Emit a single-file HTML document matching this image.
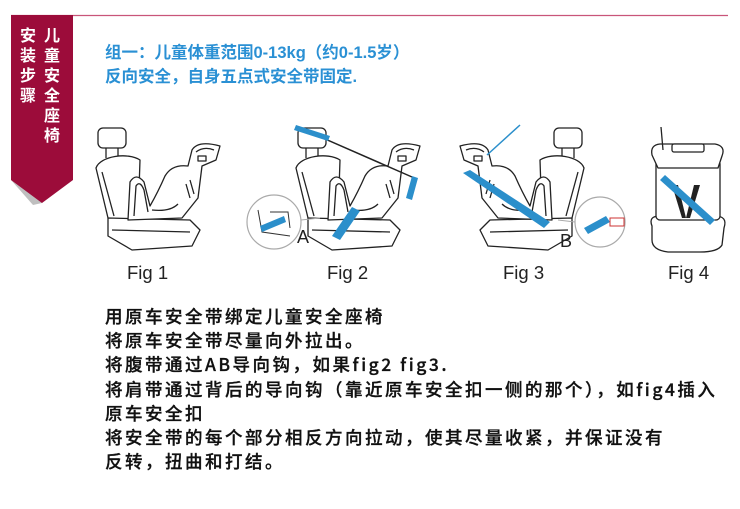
<!DOCTYPE html>
<html><head><meta charset="utf-8"><style>
html,body{margin:0;padding:0;background:#fff;}
body{width:740px;height:509px;position:relative;overflow:hidden;font-family:"Liberation Sans","Noto Sans CJK SC",sans-serif;}
.blue{position:absolute;left:105px;color:#2a90d4;font-weight:bold;font-size:16.5px;font-family:"Liberation Sans","Noto Sans CJK SC",sans-serif;white-space:nowrap;}
.fig{position:absolute;font-size:18.5px;color:#222;font-family:"Liberation Sans",sans-serif;}
.txt{position:absolute;left:105px;top:305px;font-size:17.5px;line-height:24.2px;letter-spacing:2.5px;color:#111;font-weight:500;white-space:nowrap;font-family:"Noto Sans CJK SC",sans-serif;-webkit-text-stroke:0.3px #111;}
</style></head><body>
<svg width="740" height="509" style="position:absolute;left:0;top:0">
<line x1="11" y1="15.5" x2="728" y2="15.5" stroke="#c9557a" stroke-width="1.2"/>
<polygon points="11,180 33,205 42,203 25,180" fill="#bfbfbf"/>
<polygon points="11,15 73,15 73,180 42,203 11,180" fill="#9c0c3a"/>
<defs>
<g id="seat" fill="#fff" stroke="#222" stroke-width="1.3" stroke-linejoin="round">
 <rect x="8" y="8" width="28" height="20" rx="5"/>
 <line x1="16" y1="28" x2="16" y2="38"/><line x1="28" y1="28" x2="28" y2="38"/>
 <path d="M6 48 C10 36 38 32 50 40 L48 100 L30 104 L18 98 Z"/>
 <path d="M12 52 L24 96" fill="none"/>
 <path d="M18 98 L100 100 L110 110 L102 126 L42 130 L18 116 Z"/>
 <path d="M22 110 L100 112" fill="none"/>
 <path d="M38 100 L40 62 Q46 52 54 62 L60 86 Q68 72 75 56 Q82 44 98 46 L102 30 Q108 20 130 26 L126 40 L112 46 L108 78 L92 98 Z"/>
 <path d="M44 96 L46 66 Q50 60 54 70 L58 92" fill="none"/>
 <path d="M62 90 Q80 92 88 84" fill="none"/>
 <path d="M106 32 Q114 26 124 30" fill="none"/>
 <rect x="108" y="36" width="8" height="5"/>
 <path d="M100 60 L104 74 M96 64 L100 78" fill="none"/>
</g>
</defs>
<use href="#seat" x="90" y="120"/>
<use href="#seat" x="290" y="120"/>
<g transform="translate(590,120) scale(-1,1)"><use href="#seat"/></g>
<line x1="300" y1="128" x2="412" y2="177" stroke="#222" stroke-width="1.5"/>
<polygon points="296,125 330,136 328,141 294,130" fill="#2b8fcb"/>
<polygon points="412,176 418,178 412,200 406,198" fill="#2b8fcb"/>
<polygon points="352,207 360,211 340,240 332,236" fill="#2b8fcb"/>
<circle cx="274" cy="222" r="27" fill="#fff" stroke="#aaa" stroke-width="1.2"/>
<line x1="301" y1="220" x2="320" y2="218" stroke="#aaa"/>
<path d="M258 210 L262 232 L290 236 M270 212 L288 212 L290 228" fill="none" stroke="#333" stroke-width="1"/>
<polygon points="260,226 284,216 286,222 262,232" fill="#2b8fcb"/>
<text x="297" y="243" font-family="Liberation Sans" font-size="18" fill="#222">A</text>
<line x1="487" y1="155" x2="520" y2="125" stroke="#2b8fcb" stroke-width="1.5"/>
<polygon points="463,173 470,170 550,222 544,228" fill="#2b8fcb"/>
<circle cx="600" cy="222" r="25" fill="#fff" stroke="#aaa" stroke-width="1.2"/>
<line x1="575" y1="222" x2="558" y2="220" stroke="#aaa"/>
<polygon points="584,228 606,216 610,222 588,234" fill="#2b8fcb"/>
<rect x="610" y="218" width="14" height="8" fill="#fff" stroke="#c33"/>
<text x="560" y="247" font-family="Liberation Sans" font-size="18" fill="#222">B</text>
<g fill="#fff" stroke="#222" stroke-width="1.3" stroke-linejoin="round">
 <path d="M652 226 Q648 216 660 216 L715 216 Q728 216 724 228 L722 245 Q718 252 700 252 L668 252 Q652 250 652 240 Z"/>
 <rect x="656" y="160" width="64" height="60" rx="4"/>
 <path d="M652 155 Q650 145 660 144 L715 144 Q726 146 722 156 L718 168 L658 168 Z"/>
 <rect x="672" y="144" width="32" height="8" rx="2"/>
 <line x1="661" y1="127" x2="663" y2="150"/>
</g>
<polygon points="672,185 678,185 686,218 682,218" fill="#222"/>
<polygon points="694,185 700,185 690,218 686,218" fill="#222"/>
<polygon points="660,180 665,175 715,220 710,225" fill="#2b8fcb"/>
</svg>
<div style="position:absolute;left:20px;top:24px;color:#fff;font-weight:bold;font-size:16px;line-height:20px;width:18px;font-family:'Noto Sans CJK SC',sans-serif;">安<br>装<br>步<br>骤</div>
<div style="position:absolute;left:44px;top:24px;color:#fff;font-weight:bold;font-size:16px;line-height:20px;width:18px;font-family:'Noto Sans CJK SC',sans-serif;">儿<br>童<br>安<br>全<br>座<br>椅</div>
<div class="blue" style="top:39px">组一：儿童体重范围0-13kg（约0-1.5岁）</div>
<div class="blue" style="top:63px">反向安全，自身五点式安全带固定.</div>
<div class="fig" style="left:127px;top:262px">Fig 1</div>
<div class="fig" style="left:327px;top:262px">Fig 2</div>
<div class="fig" style="left:503px;top:262px">Fig 3</div>
<div class="fig" style="left:668px;top:262px">Fig 4</div>
<div class="txt">用原车安全带绑定儿童安全座椅<br>将原车安全带尽量向外拉出。<br>将腹带通过AB导向钩，如果fig2 fig3.<br>将肩带通过背后的导向钩（靠近原车安全扣一侧的那个），如fig4插入<br>原车安全扣<br>将安全带的每个部分相反方向拉动，使其尽量收紧，并保证没有<br>反转，扭曲和打结。</div>
</body></html>
